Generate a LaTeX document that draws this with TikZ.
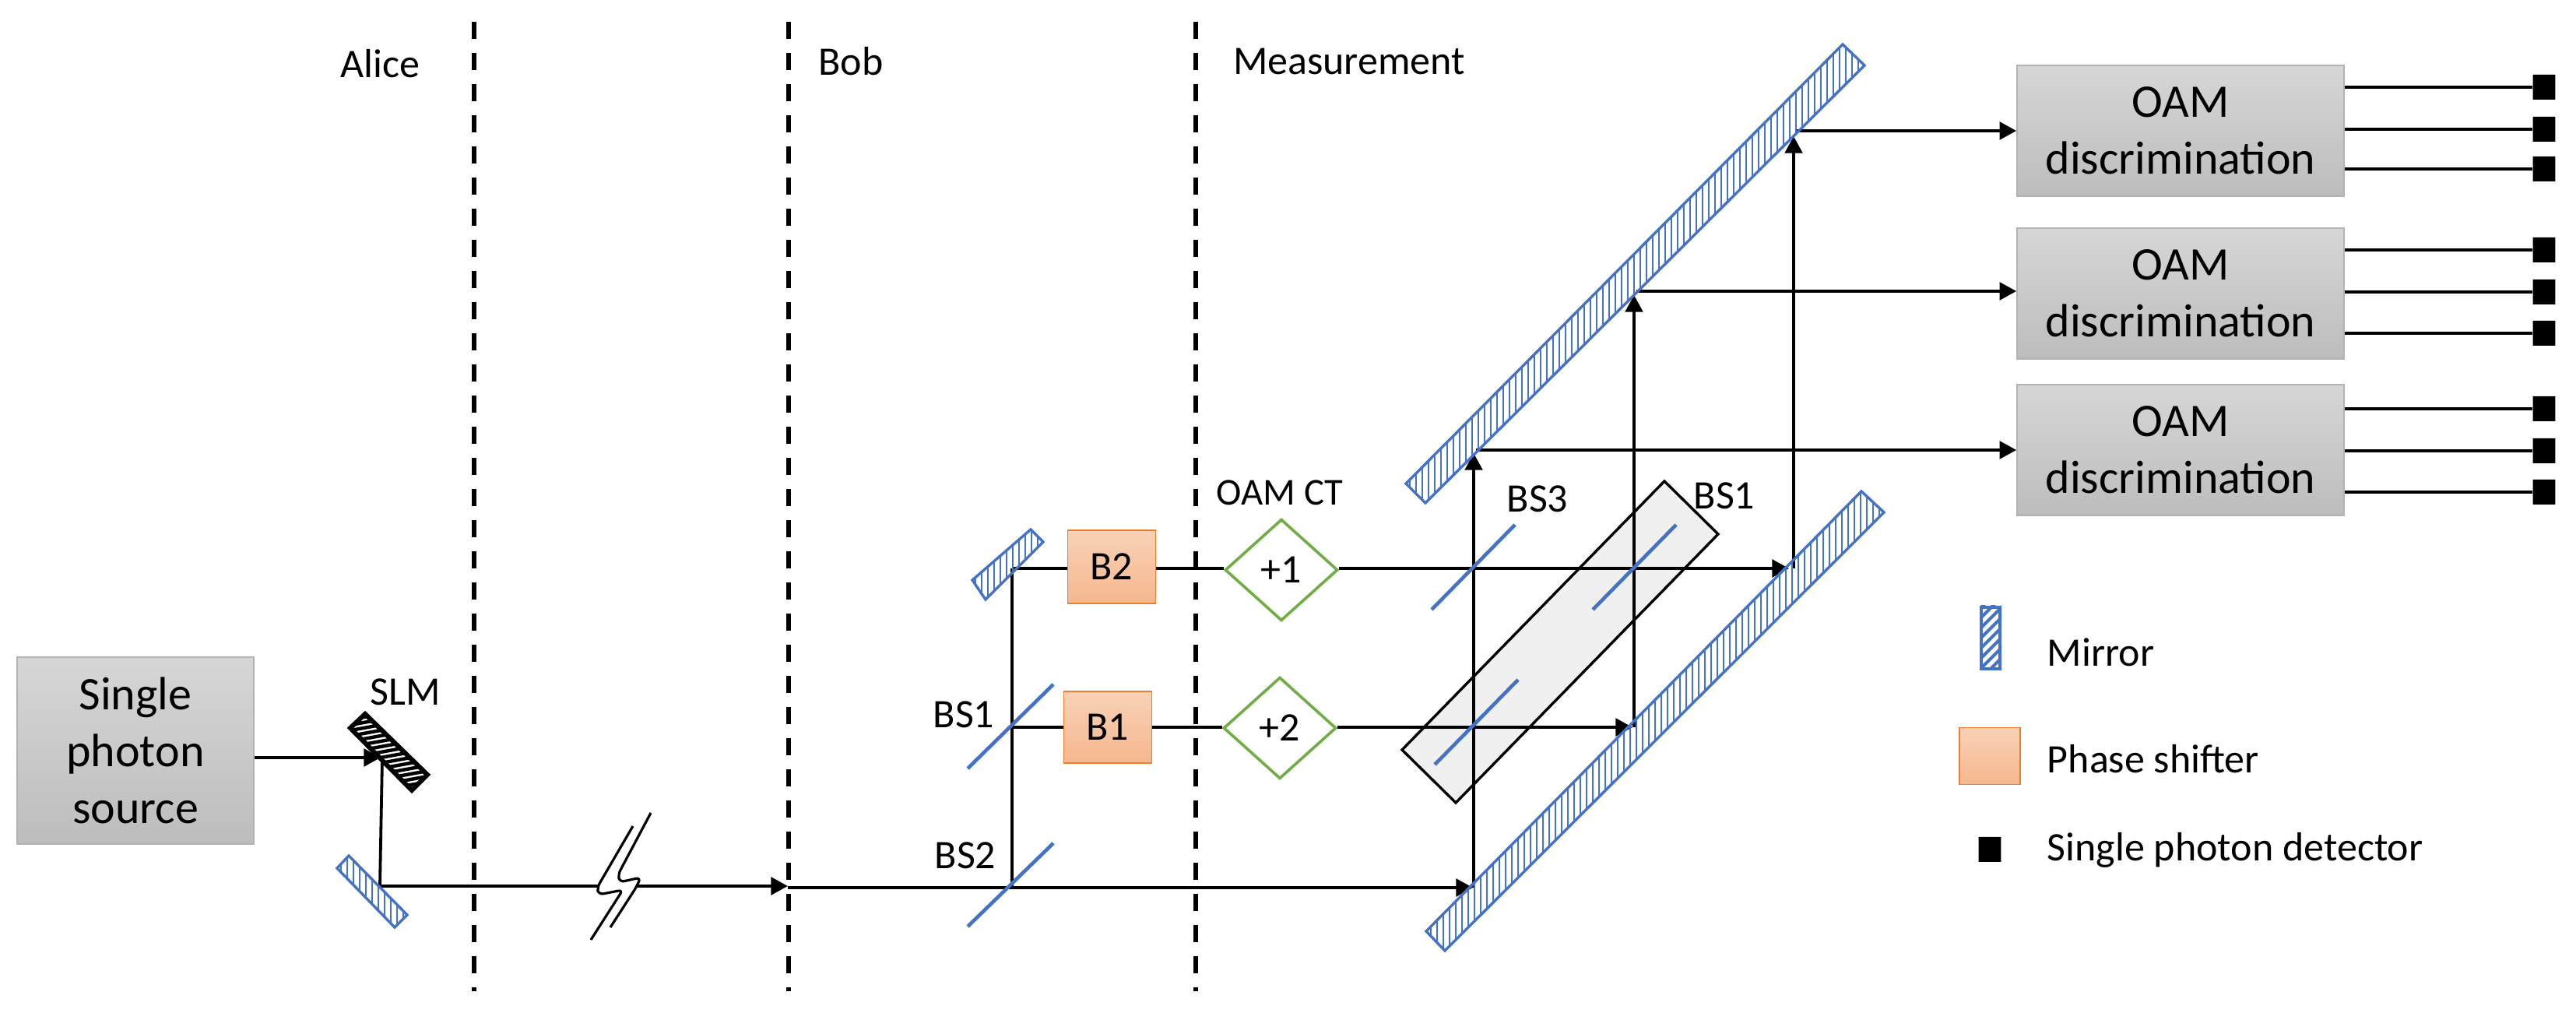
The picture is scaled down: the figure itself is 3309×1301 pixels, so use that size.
\documentclass[tikz,border=0pt]{standalone}
\usepackage{fontspec}
\setmainfont{Carlito}
\usetikzlibrary{arrows.meta,shapes.geometric,shapes.misc}
\definecolor{mblue}{HTML}{4472C4}
\definecolor{sgreen}{HTML}{70AD47}
\definecolor{porange}{HTML}{ED7D31}
\tikzset{
  beam/.style={line width=1.05pt,draw=black},
  thinbeam/.style={line width=0.95pt,draw=black},
  arrowed/.style={-{Triangle[length=5.4pt,width=5.6pt]}},
  divider/.style={line width=1.5pt,dash pattern=on 5.5pt off 4.5pt},
  splitter/.style={line width=1.15pt,draw=mblue},
  graybox/.style={rectangle,draw=black!30,line width=0.4pt,top color=black!16,bottom color=black!26,
    inner sep=0pt,align=center,font=\fontsize{15}{18.3}\selectfont},
  phasebox/.style={rectangle,draw=porange,line width=0.4pt,top color=porange!35!white,bottom color=porange!55!white,
    inner sep=0pt,font=\fontsize{13}{16}\selectfont},
  ctdiamond/.style={diamond,aspect=1,draw=sgreen,fill=white,line width=0.9pt,inner sep=0pt,
    font=\fontsize{13}{16}\selectfont},
  detector/.style={chamfered rectangle,chamfered rectangle corners={north east,south east},
    chamfered rectangle xsep=2pt,chamfered rectangle ysep=2pt,
    fill=black,draw=none,inner sep=0pt,minimum width=7.2pt,minimum height=8pt},
  lbl/.style={inner sep=0pt,font=\fontsize{13}{16}\selectfont},
  lblleft/.style={lbl,anchor=west},
}
\newcommand{\mirrorshape}[6]{%
  \begin{scope}
    \clip #1 -- #2 -- #3 -- #4 -- cycle;
    \pgfmathsetmacro{\nxt}{#5+8}
    \foreach \xx in {#5,\nxt,...,#6} \draw[mblue,line width=0.7pt] (\xx,0) -- (\xx,1301);
  \end{scope}
  \draw[mblue,line width=0.85pt,line join=miter] #1 -- #2 -- #3 -- #4 -- cycle;}
\begin{document}
\begin{tikzpicture}[x=0.25pt,y=-0.25pt]
\useasboundingbox (0,0) rectangle (3309,1301);

% dividers
\coordinate (d1t) at (609,28); \coordinate (d1b) at (609,1273);
\coordinate (d2t) at (1013,28); \coordinate (d2b) at (1013,1273);
\coordinate (d3t) at (1536,28); \coordinate (d3b) at (1536,1273);
\draw[divider] (d1t) -- (d1b);
\draw[divider] (d2t) -- (d2b);
\draw[divider] (d3t) -- (d3b);

% grey interferometer box
\coordinate (gA) at (1801,963); \coordinate (gB) at (1870,1031);
\coordinate (gC) at (2207,686); \coordinate (gD) at (2138,618);
\draw[fill=black!6,draw=black,line width=0.85pt] (gA) -- (gB) -- (gC) -- (gD) -- cycle;

% nodes
\node[graybox,minimum width=105pt,minimum height=42pt] (oam1) at (2801,168) {OAM\\discrimination};
\node[graybox,minimum width=105pt,minimum height=42pt] (oam2) at (2801,377) {OAM\\discrimination};
\node[graybox,minimum width=105pt,minimum height=42pt] (oam3) at (2801,578) {OAM\\discrimination};
\node[graybox,minimum width=76pt,minimum height=60pt] (src) at (174,964) {Single\\photon\\source};
\node[phasebox,minimum width=28.2pt,minimum height=23.4pt] (b2) at (1428,728) {B2};
\node[phasebox,minimum width=28.2pt,minimum height=23pt] (b1) at (1423,934) {B1};

% junction points
\coordinate (pS) at (489,973);
\coordinate (mA) at (488,1138);
\coordinate (slmhit) at (491,975);
\coordinate (bobp) at (1012,1138);
\coordinate (bob2) at (1012,1140);
\coordinate (j2) at (1300,730);
\coordinate (j1) at (1300,934);
\coordinate (j0) at (1300,1140);
\coordinate (lm0) at (1892,1140);
\coordinate (lm1) at (2097,934);
\coordinate (lm2) at (2298,730);
\coordinate (v0b) at (1893,1140); \coordinate (v0t) at (1893,582);
\coordinate (v1b) at (2099,934); \coordinate (v1t) at (2099,379);
\coordinate (v2b) at (2304,730); \coordinate (v2t) at (2304,175);
\coordinate (u0) at (1896,578);
\coordinate (u1) at (2102,374);
\coordinate (u2) at (2307,168);

% beams
\draw[beam,arrowed] (src.east |- pS) -- (pS);
\draw[thinbeam] (mA) -- (slmhit);
\draw[beam,arrowed] (mA) -- (bobp);
\draw[beam] (bob2) -- (j0);
\draw[beam,arrowed] (j0) -- (lm0);
\draw[thinbeam] (j2) -- (j0);
\draw[beam] (j2) -- (b2.west |- j2);
\draw[beam] (j1) -- (b1.west);

\node[ctdiamond,minimum width=36.2pt,minimum height=32.6pt] (ct1) at (1646,732) {+1};
\node[ctdiamond,minimum width=36.2pt,minimum height=32.6pt] (ct2) at (1644,935) {+2};
\draw[beam] (b2.east |- j2) -- (ct1.west |- j2);
\draw[beam] (b1.east) -- (ct2.west |- j1);
\draw[beam,arrowed] (ct1.east |- lm2) -- (lm2);
\draw[beam,arrowed] (ct2.east |- lm1) -- (lm1);
\draw[thinbeam,arrowed] (v0b) -- (v0t);
\draw[thinbeam,arrowed] (v1b) -- (v1t);
\draw[thinbeam,arrowed] (v2b) -- (v2t);
\draw[beam,arrowed] (u0) -- (oam3.west |- u0);
\draw[beam,arrowed] (u1) -- (oam2.west |- u1);
\draw[beam,arrowed] (u2) -- (oam1.west |- u2);

% detectors
\foreach \b/\n/\ya/\yb/\yc in {oam1/a/112/166/217,oam2/b/321/375/428,oam3/c/525/579/632}{
  \node[detector] (det\n1) at (3268,\ya) {};
  \node[detector] (det\n2) at (3268,\yb) {};
  \node[detector] (det\n3) at (3268,\yc) {};
  \draw[beam] (\b.east |- det\n1.west) -- (det\n1.west);
  \draw[beam] (\b.east |- det\n2.west) -- (det\n2.west);
  \draw[beam] (\b.east |- det\n3.west) -- (det\n3.west);
}

% lightning break
\fill[white] (836,1044) -- (794,1123) -- (796,1133) -- (823,1127) -- (817,1140) -- (784,1191)
  -- (759,1207) -- (800,1143) -- (769,1149) -- (767,1140) -- (813,1061) -- cycle;
\draw[line width=0.8pt,rounded corners=1.5pt] (836,1044) -- (794,1123) -- (796,1133) -- (823,1127) -- (817,1140) -- (784,1191);
\draw[line width=0.8pt,rounded corners=1.5pt] (813,1061) -- (767,1140) -- (769,1149) -- (800,1143) -- (759,1207);

% mirrors
\mirrorshape{(448,1099)}{(523,1175)}{(507,1191)}{(433,1115)}{430}{530}
\mirrorshape{(1324,680)}{(1340,696)}{(1266,770)}{(1249,745)}{1245}{1345}
\mirrorshape{(2367,57)}{(2395,84)}{(1831,646)}{(1806,621)}{1803}{2400}
\mirrorshape{(2391,631)}{(2420,658)}{(1856,1221)}{(1832,1196)}{1830}{2425}

% legend mirror (diagonal hatching)
\begin{scope}
  \clip (2543,778) rectangle (2571,861);
  \foreach \yy in {790,803,...,900} \draw[mblue,line width=1pt] (2535,\yy) -- (2580,\yy-45);
\end{scope}
\draw[mblue,line width=1.2pt] (2545,780) rectangle (2569,859);

% SLM
\begin{scope}
  \clip (469,917) -- (549,995) -- (529,1015) -- (450,935) -- cycle;
  \fill[white] (445,910) rectangle (555,1020);
  \foreach \yy in {925,932,...,1030} \draw[line width=1.1pt] (445,\yy) -- (555,\yy-20);
\end{scope}
\draw[line width=1.5pt,line join=miter] (469,917) -- (549,995) -- (529,1015) -- (450,935) -- cycle;

% beam splitters
\coordinate (s1a) at (1243,987); \coordinate (s1b) at (1353,879);
\coordinate (s2a) at (1243,1190); \coordinate (s2b) at (1353,1083);
\coordinate (s3a) at (1839,783); \coordinate (s3b) at (1946,674);
\coordinate (s4a) at (2046,783); \coordinate (s4b) at (2153,674);
\coordinate (s5a) at (1843,982); \coordinate (s5b) at (1950,873);
\draw[splitter] (s1a) -- (s1b);
\draw[splitter] (s2a) -- (s2b);
\draw[splitter] (s3a) -- (s3b);
\draw[splitter] (s4a) -- (s4b);
\draw[splitter] (s5a) -- (s5b);

% labels
\node[lbl] (alice) at (488,82) {Alice};
\node[lbl] (bob) at (1093,79) {Bob};
\node[lbl] (meas) at (1733,79) {Measurement};
\node[lbl] (slmlbl) at (521,889) {SLM};
\node[lbl] (bs1a) at (1238,918) {BS1};
\node[lbl] (bs2a) at (1240,1099) {BS2};
\node[lbl,font=\fontsize{12.2}{15}\selectfont] (oamct) at (1644,633) {OAM CT};
\node[lbl] (bs3a) at (1975,641) {BS3};
\node[lbl] (bs1b) at (2215,637) {BS1};

% legend
\node[phasebox,minimum width=19.5pt,minimum height=18.2pt] (legp) at (2556,971) {};
\node[detector] (legd) at (2556,1091) {};
\node[lblleft] (t1) at (2629,838) {Mirror};
\node[lblleft] (t2) at (2629,975) {Phase shifter};
\node[lblleft] (t3) at (2629,1092) {Single photon detector};
\end{tikzpicture}
\end{document}
